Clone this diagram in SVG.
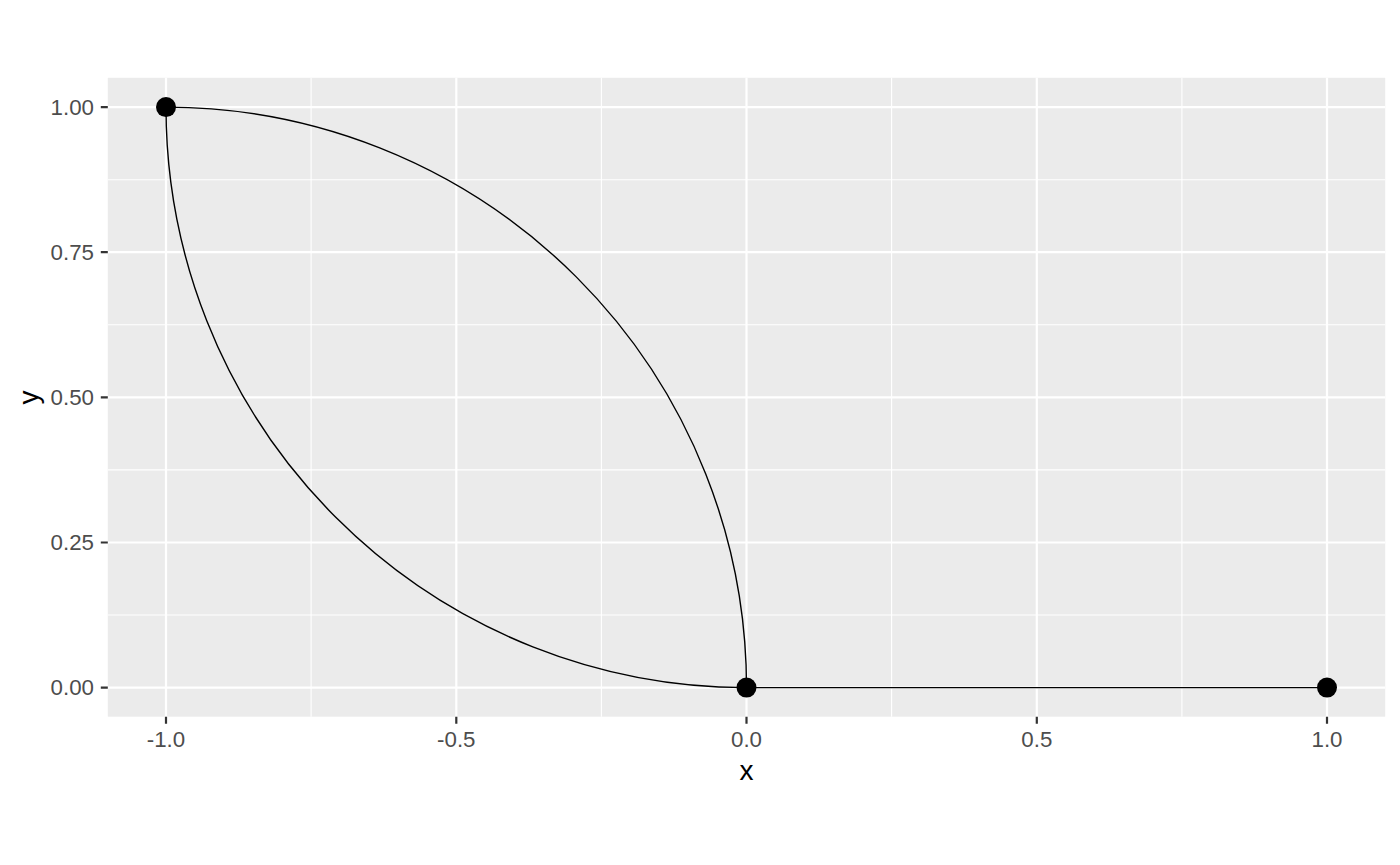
<svg xmlns="http://www.w3.org/2000/svg" width="1400" height="865" viewBox="0 0 1400 865">
<style>
.minor{stroke:#ffffff;stroke-width:1.1;fill:none}
.major{stroke:#ffffff;stroke-width:2.2;fill:none}
.tick{stroke:#333333;stroke-width:2.2}
.tl{font-family:"Liberation Sans",Arial,sans-serif;font-size:22.3px;fill:#4d4d4d}
.at{font-family:"Liberation Sans",Arial,sans-serif;font-size:28px;fill:#000000}
.edge{stroke:#000000;stroke-width:1.4;fill:none}
.pt{fill:#000000}
</style>
<rect x="0" y="0" width="1400" height="865" fill="#ffffff"/>
<g id="panel">
<rect x="107.8" y="77.8" width="1277.4" height="638.9" fill="#ebebeb"/>
<path class="minor" d="M311.1,77.8V716.7M601.4,77.8V716.7M891.6,77.8V716.7M1181.9,77.8V716.7M107.8,615.0H1385.2M107.8,469.9H1385.2M107.8,324.8H1385.2M107.8,179.7H1385.2"/>
<path class="major" d="M166,77.8V716.7M456.3,77.8V716.7M746.5,77.8V716.7M1036.8,77.8V716.7M1327,77.8V716.7M107.8,687.6H1385.2M107.8,542.5H1385.2M107.8,397.4H1385.2M107.8,252.2H1385.2M107.8,107.1H1385.2"/>
</g>
<g id="axes">
<path class="tick" d="M166,716.7v7M456.3,716.7v7M746.5,716.7v7M1036.8,716.7v7M1327,716.7v7M100.8,687.6h7M100.8,542.5h7M100.8,397.4h7M100.8,252.2h7M100.8,107.1h7"/>
<g class="tl" text-anchor="middle">
<text x="166" y="747">-1.0</text>
<text x="456.3" y="747">-0.5</text>
<text x="746.5" y="747">0.0</text>
<text x="1036.8" y="747">0.5</text>
<text x="1327" y="747">1.0</text>
</g>
<g class="tl" text-anchor="end">
<text x="94" y="695.2">0.00</text>
<text x="94" y="550.1">0.25</text>
<text x="94" y="405">0.50</text>
<text x="94" y="259.8">0.75</text>
<text x="94" y="114.7">1.00</text>
</g>
<text class="at" x="746.5" y="780" text-anchor="middle">x</text>
<text class="at" transform="translate(37.5,397.4) rotate(-90)" text-anchor="middle">y</text>
</g>
<g id="connectors">
<path class="edge" d="M166,107.1A580.5,580.5 0 0 1 746.5,687.6"/>
<path class="edge" d="M166,107.1A580.5,580.5 0 0 0 746.5,687.6"/>
<path class="edge" d="M746.5,687.6H1327"/>
</g>
<g id="node-a"><circle class="pt" cx="166" cy="107.1" r="10"/></g>
<g id="node-b"><circle class="pt" cx="746.5" cy="687.6" r="10"/></g>
<g id="node-c"><circle class="pt" cx="1327" cy="687.6" r="10"/></g>
</svg>
